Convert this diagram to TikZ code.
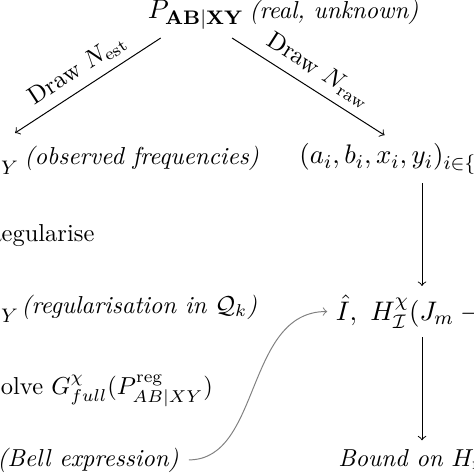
\documentclass[tikz,border=0pt]{standalone}
\usepackage{amsmath}
\usepackage{amssymb}

\begin{document}
\begin{tikzpicture}[x = 0.408pt, y = -0.408pt,
	cell/.style = {anchor = base, font = \fontsize{11}{13}\selectfont},
	note/.style = {anchor = base west, inner sep = 0pt, font = \itshape}]
	\useasboundingbox (0,0) rectangle (474,474);
	\clip (0,0) rectangle (474,474);
	\path
	(196,19) node[cell](P){$P_{\mathbf{AB|XY}}$}
	(249,19) node[note](Pn){(real, unknown)}
	(-27,165) node[cell](Lobs){$P^{\mathrm{obs}}_{AB|XY}$}
	(24,165) node[note](Lobsn){(observed frequencies)}
	(-27,313) node[cell](Lreg){$P^{\mathrm{reg}}_{AB|XY}$}
	(21,313) node[note](Lregn){(regularisation in $\mathcal{Q}_k$)}
	(-27,466) node[cell](Lbell){$\chi$}
	(-3,466) node[note](Lbelln){(Bell expression)}
	(422,164) node[cell](R){$(a_i,b_i,x_i,y_i)_{i\in\{1,\dots,N\}}$}
	(422,320) node[cell](I){$\hat{I},\ H^{\chi}_{\mathcal{I}}(J_m - \epsilon)$}
	(422,466) node[anchor = base](B){\textit{Bound on $H_{\min}$}}
	;
	\draw[color = black]
	(P) edge[->] node[midway, above, sloped]{Draw $N_{\mathrm{est}}$} (Lobs)
	(P) edge[->] node[midway, above, sloped]{Draw $N_{\mathrm{raw}}$} (R)
	(Lobs) edge[->] node[midway, right, xshift = 0.8pt]{Regularise} (Lreg)
	(Lreg) edge[->] node[midway, right, xshift = 2.3pt]{Solve $G^{\chi}_{full}(P^{\mathrm{reg}}_{AB|XY})$} (Lbell)
	(R) edge[->] (I)
	(I) edge[->] (B)
	;
	\draw[->, color = gray, shorten <= 4pt] (Lbelln.east) to[out = 0, in = 180] (I.west);
\end{tikzpicture}
\end{document}
